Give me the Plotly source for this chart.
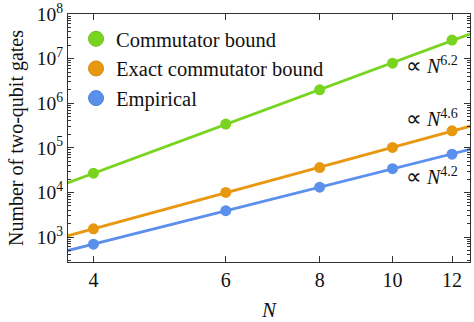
import numpy as np
import plotly.graph_objects as go

N = [4, 6, 8, 10, 12]
commutator = [2.7e4, 3.4e5, 2.0e6, 7.9e6, 2.6e7]
exact = [1.53e3, 1.0e4, 3.6e4, 1.02e5, 2.4e5]
empirical = [690, 3.9e3, 1.31e4, 3.4e4, 7.2e4]
names = ["Commutator bound", "Exact commutator bound", "Empirical"]
exponents_text = ["6.2", "4.6", "4.2"]
colors = ["#79d420", "#e8980f", "#5a8fec"]
edge_colors = ["#6cbf1c", "#d08a10", "#4f80d8"]
series = [commutator, exact, empirical]

ytick_vals = [1e3, 1e4, 1e5, 1e6, 1e7, 1e8]
ytick_text = ["10<sup>3</sup>", "10<sup>4</sup>", "10<sup>5</sup>", "10<sup>6</sup>", "10<sup>7</sup>", "10<sup>8</sup>"]
xtick_vals = [4, 6, 8, 10, 12]

xrange_log = [np.log10(3.70), np.log10(12.68)]
yrange_log = [2.44, 8.0005]

FONT = "Liberation Serif"
fig = go.Figure()

xfit = np.array([3.4, 13.5])
for ys, name, col in zip(series, names, colors):
    p = np.polyfit(np.log10(N), np.log10(ys), 1)
    yfit = 10 ** np.polyval(p, np.log10(xfit))
    fig.add_trace(go.Scatter(x=xfit, y=yfit, mode="lines", line=dict(color=col, width=2.8),
                             showlegend=False, hoverinfo="skip"))
    fig.add_trace(go.Scatter(x=N, y=ys, mode="markers", marker=dict(color=col, size=11),
                             showlegend=False, name=name))
for name, col, ec in zip(names, colors, edge_colors):
    fig.add_trace(go.Scatter(x=[None], y=[None], mode="markers", name=name,
                             marker=dict(color=col, size=15, line=dict(color=ec, width=1))))

minor_y = [m * 10 ** k for k in range(2, 8) for m in range(2, 10)]

axis_common = dict(showline=True, linecolor="#333", linewidth=1, mirror="allticks", automargin=False,
                   ticks="inside", tickcolor="#333", showgrid=False, zeroline=False,
                   ticklabeloverflow="allow")

fig.update_xaxes(type="log", range=xrange_log, tickvals=xtick_vals, ticktext=[str(v) for v in xtick_vals],
                 ticklen=6, tickfont=dict(family=FONT, size=20, color="#111"),
                 title=dict(text="<i>N</i>", font=dict(family=FONT, size=21, color="#111"), standoff=22),
                 **axis_common)
fig.update_yaxes(type="log", range=yrange_log, tickvals=ytick_vals, ticktext=ytick_text, ticklen=6,
                 tickfont=dict(family=FONT, size=19.5, color="#111"),
                 minor=dict(tickvals=minor_y, ticks="inside", ticklen=3, tickcolor="#333"),
                 title=dict(text="Number of two-qubit gates", font=dict(family=FONT, size=20, color="#111"), standoff=7),
                 **axis_common)

# label anchor positions (axis log units)
ann_x = 1.0153
ann_y = [6.844, 5.667, 4.356]
for ay, e in zip(ann_y, exponents_text):
    fig.add_annotation(x=ann_x, y=ay, xref="x", yref="y", showarrow=False, xanchor="left", yanchor="middle",
                       text=f"<span style='font-size:22px'>∝</span> <i>N</i><sup>{e}</sup>",
                       font=dict(family=FONT, size=20, color="#111"))

fig.update_layout(
    width=474, height=322, margin=dict(l=68, r=4, t=14, b=60, autoexpand=False),
    plot_bgcolor="white", paper_bgcolor="white",
    legend=dict(x=0.02, y=0.98, xanchor="left", yanchor="top", bgcolor="rgba(0,0,0,0)",
                font=dict(family=FONT, size=20.5, color="#111"), itemsizing="trace"),
)
fig.write_html("out.html")
